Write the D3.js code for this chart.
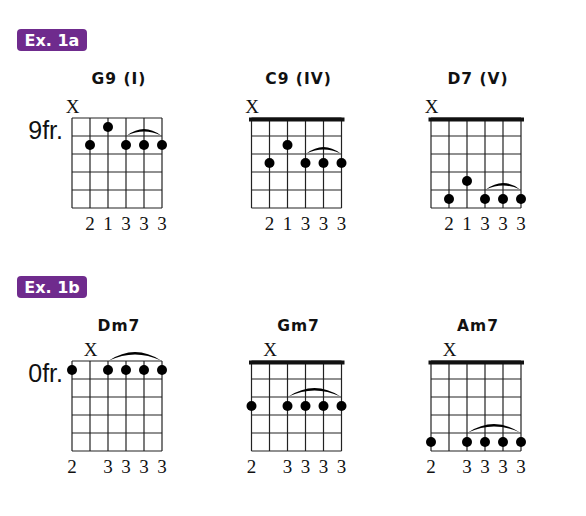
<!DOCTYPE html>
<html>
  <head>
    <meta charset="utf-8">
    <title>Ex. 1a / 1b chord grids</title>
    <script src="https://d3js.org/d3.v7.min.js"></script>
    <style>
      body { margin: 0; background: #fff; }
      .grid line { stroke: #222; stroke-width: 1.2; }
      .nut { fill: #111; }
      .dot { fill: #000; }
      .slur { fill: #000; }
      .mute, .finger { font-family: "Liberation Serif", "Times New Roman", serif; fill: #111; }
      .title { font-family: "DejaVu Sans", sans-serif; font-weight: bold; fill: #111; }
      .fretLabel { font-family: "Liberation Sans", Arial, sans-serif; fill: #111; }
      .badge rect { fill: #6f2b8d; }
      .badge text { font-family: "DejaVu Sans", sans-serif; font-weight: bold; fill: #fff; }
    </style>
  </head>
  <body>
    <svg id="chart" width="586" height="516"></svg>
    <script>
      // chord data
      examples = ["Ex. 1a", "Ex. 1b"];
      chordNames = ["G9 (I)", "C9 (IV)", "D7 (V)", "Dm7", "Gm7", "Am7"];
      // fret per string, low E first; null = muted string
      chordFrets = [
        [null, 2, 1, 2, 2, 2],
        [null, 3, 2, 3, 3, 3],
        [null, 5, 4, 5, 5, 5],
        [1, null, 1, 1, 1, 1],
        [3, null, 3, 3, 3, 3],
        [5, null, 5, 5, 5, 5]
      ];
      chordFingers = [
        ["", "2", "1", "3", "3", "3"],
        ["", "2", "1", "3", "3", "3"],
        ["", "2", "1", "3", "3", "3"],
        ["2", "", "3", "3", "3", "3"],
        ["2", "", "3", "3", "3", "3"],
        ["2", "", "3", "3", "3", "3"]
      ];
      chordBarres = [[4, 6], [4, 6], [4, 6], [3, 6], [3, 6], [3, 6]];
      chordNut = [false, true, true, false, true, true];
      fretLabels = ["9fr.", "", "", "0fr.", "", ""];
      strings = [1, 2, 3, 4, 5, 6];
      frets = [0, 1, 2, 3, 4, 5];

      svg = d3.select("#chart");
      colX = [72, 251.5, 431];
      rowY = [118, 361];
      titleY = [84, 331];
      badgeY = [29, 276];

      x = d3.scaleLinear().domain([1, 6]).range([0, 90]);
      y = d3.scaleLinear().domain([0, 5]).range([0, 90]);

      // example badges
      badges = svg.selectAll(".badge")
        .data(examples)
        .enter().append("g")
          .classed("badge", true)
          .attr("transform", function(d, i) { return "translate(17," + badgeY[i] + ")"; });
      badges.append("rect")
        .attr("width", 70)
        .attr("height", 22)
        .attr("rx", 4);
      badges.append("text")
        .attr("x", 35)
        .attr("y", 16.5)
        .attr("text-anchor", "middle")
        .style("font-size", "16px")
        .text(function(d) { return d; });

      charts = svg.selectAll(".chord")
        .data(chordNames)
        .enter().append("g")
          .classed("chord", true)
          .attr("transform", function(d, i) {
            return "translate(" + colX[i % 3] + "," + rowY[Math.floor(i / 3)] + ")";
          });

      charts.append("text")
        .classed("title", true)
        .attr("x", x(3.5) + 2)
        .attr("y", function(d, i) { return titleY[Math.floor(i / 3)] - rowY[Math.floor(i / 3)]; })
        .attr("text-anchor", "middle")
        .style("font-size", "15.5px")
        .style("letter-spacing", "1px")
        .text(function(d) { return d; });

      grid = charts.append("g").classed("grid", true);
      grid.selectAll(".fret")
        .data(frets)
        .enter().append("line")
          .attr("x1", x(1)).attr("x2", x(6))
          .attr("y1", function(d) { return y(d); })
          .attr("y2", function(d) { return y(d); });
      grid.selectAll(".string")
        .data(strings)
        .enter().append("line")
          .attr("x1", function(d) { return x(d); })
          .attr("x2", function(d) { return x(d); })
          .attr("y1", y(0)).attr("y2", y(5));

      charts.filter(function(d, i) { return chordNut[i]; })
        .append("rect")
          .classed("nut", true)
          .attr("x", x(1) - 2.5)
          .attr("y", y(0) - 0.5)
          .attr("width", x(6) - x(1) + 5.5)
          .attr("height", 4);

      charts.append("text")
        .classed("fretLabel", true)
        .attr("x", -9)
        .attr("y", 21)
        .attr("text-anchor", "end")
        .style("font-size", "25px")
        .text(function(d, i) { return fretLabels[i]; });

      // slurs over barred strings
      charts.append("path")
        .classed("slur", true)
        .attr("d", function(d, i) {
          let b = chordBarres[i];
          let f = chordFrets[i][b[0] - 1];
          let spans = b[1] - b[0];
          let x1 = x(b[0]) + 1, x2 = x(b[1]) - 1, xm = (x1 + x2) / 2;
          let ye = y(f - 0.5) - 9.5;
          let rise = spans > 2 ? 8.5 : 6.5;
          return "M" + x1 + "," + ye
            + "Q" + xm + "," + (ye - 2 * rise) + " " + x2 + "," + ye
            + "Q" + xm + "," + (ye - 2 * rise + 5) + " " + x1 + "," + ye + "Z";
        });

      charts.each(function(d, i) {
        let g = d3.select(this);
        let data = chordFrets[i].map(function(f, s) { return { s: s + 1, f: f, finger: chordFingers[i][s] }; });
        g.selectAll(".dot")
          .data(data.filter(function(e) { return e.f !== null; }))
          .enter().append("circle")
            .classed("dot", true)
            .attr("cx", function(e) { return x(e.s); })
            .attr("cy", function(e) { return y(e.f - 0.5); })
            .attr("r", 5);
        g.selectAll(".mute")
          .data(data.filter(function(e) { return e.f === null; }))
          .enter().append("text")
            .classed("mute", true)
            .attr("x", function(e) { return x(e.s) + 0.5; })
            .attr("y", -5)
            .attr("text-anchor", "middle")
            .style("font-size", "19px")
            .text("X");
        g.selectAll(".finger")
          .data(data)
          .enter().append("text")
            .classed("finger", true)
            .attr("x", function(e) { return x(e.s); })
            .attr("y", y(5) + 22)
            .attr("text-anchor", "middle")
            .style("font-size", "19px")
            .text(function(e) { return e.finger; });
      });
    </script>
  </body>
</html>
